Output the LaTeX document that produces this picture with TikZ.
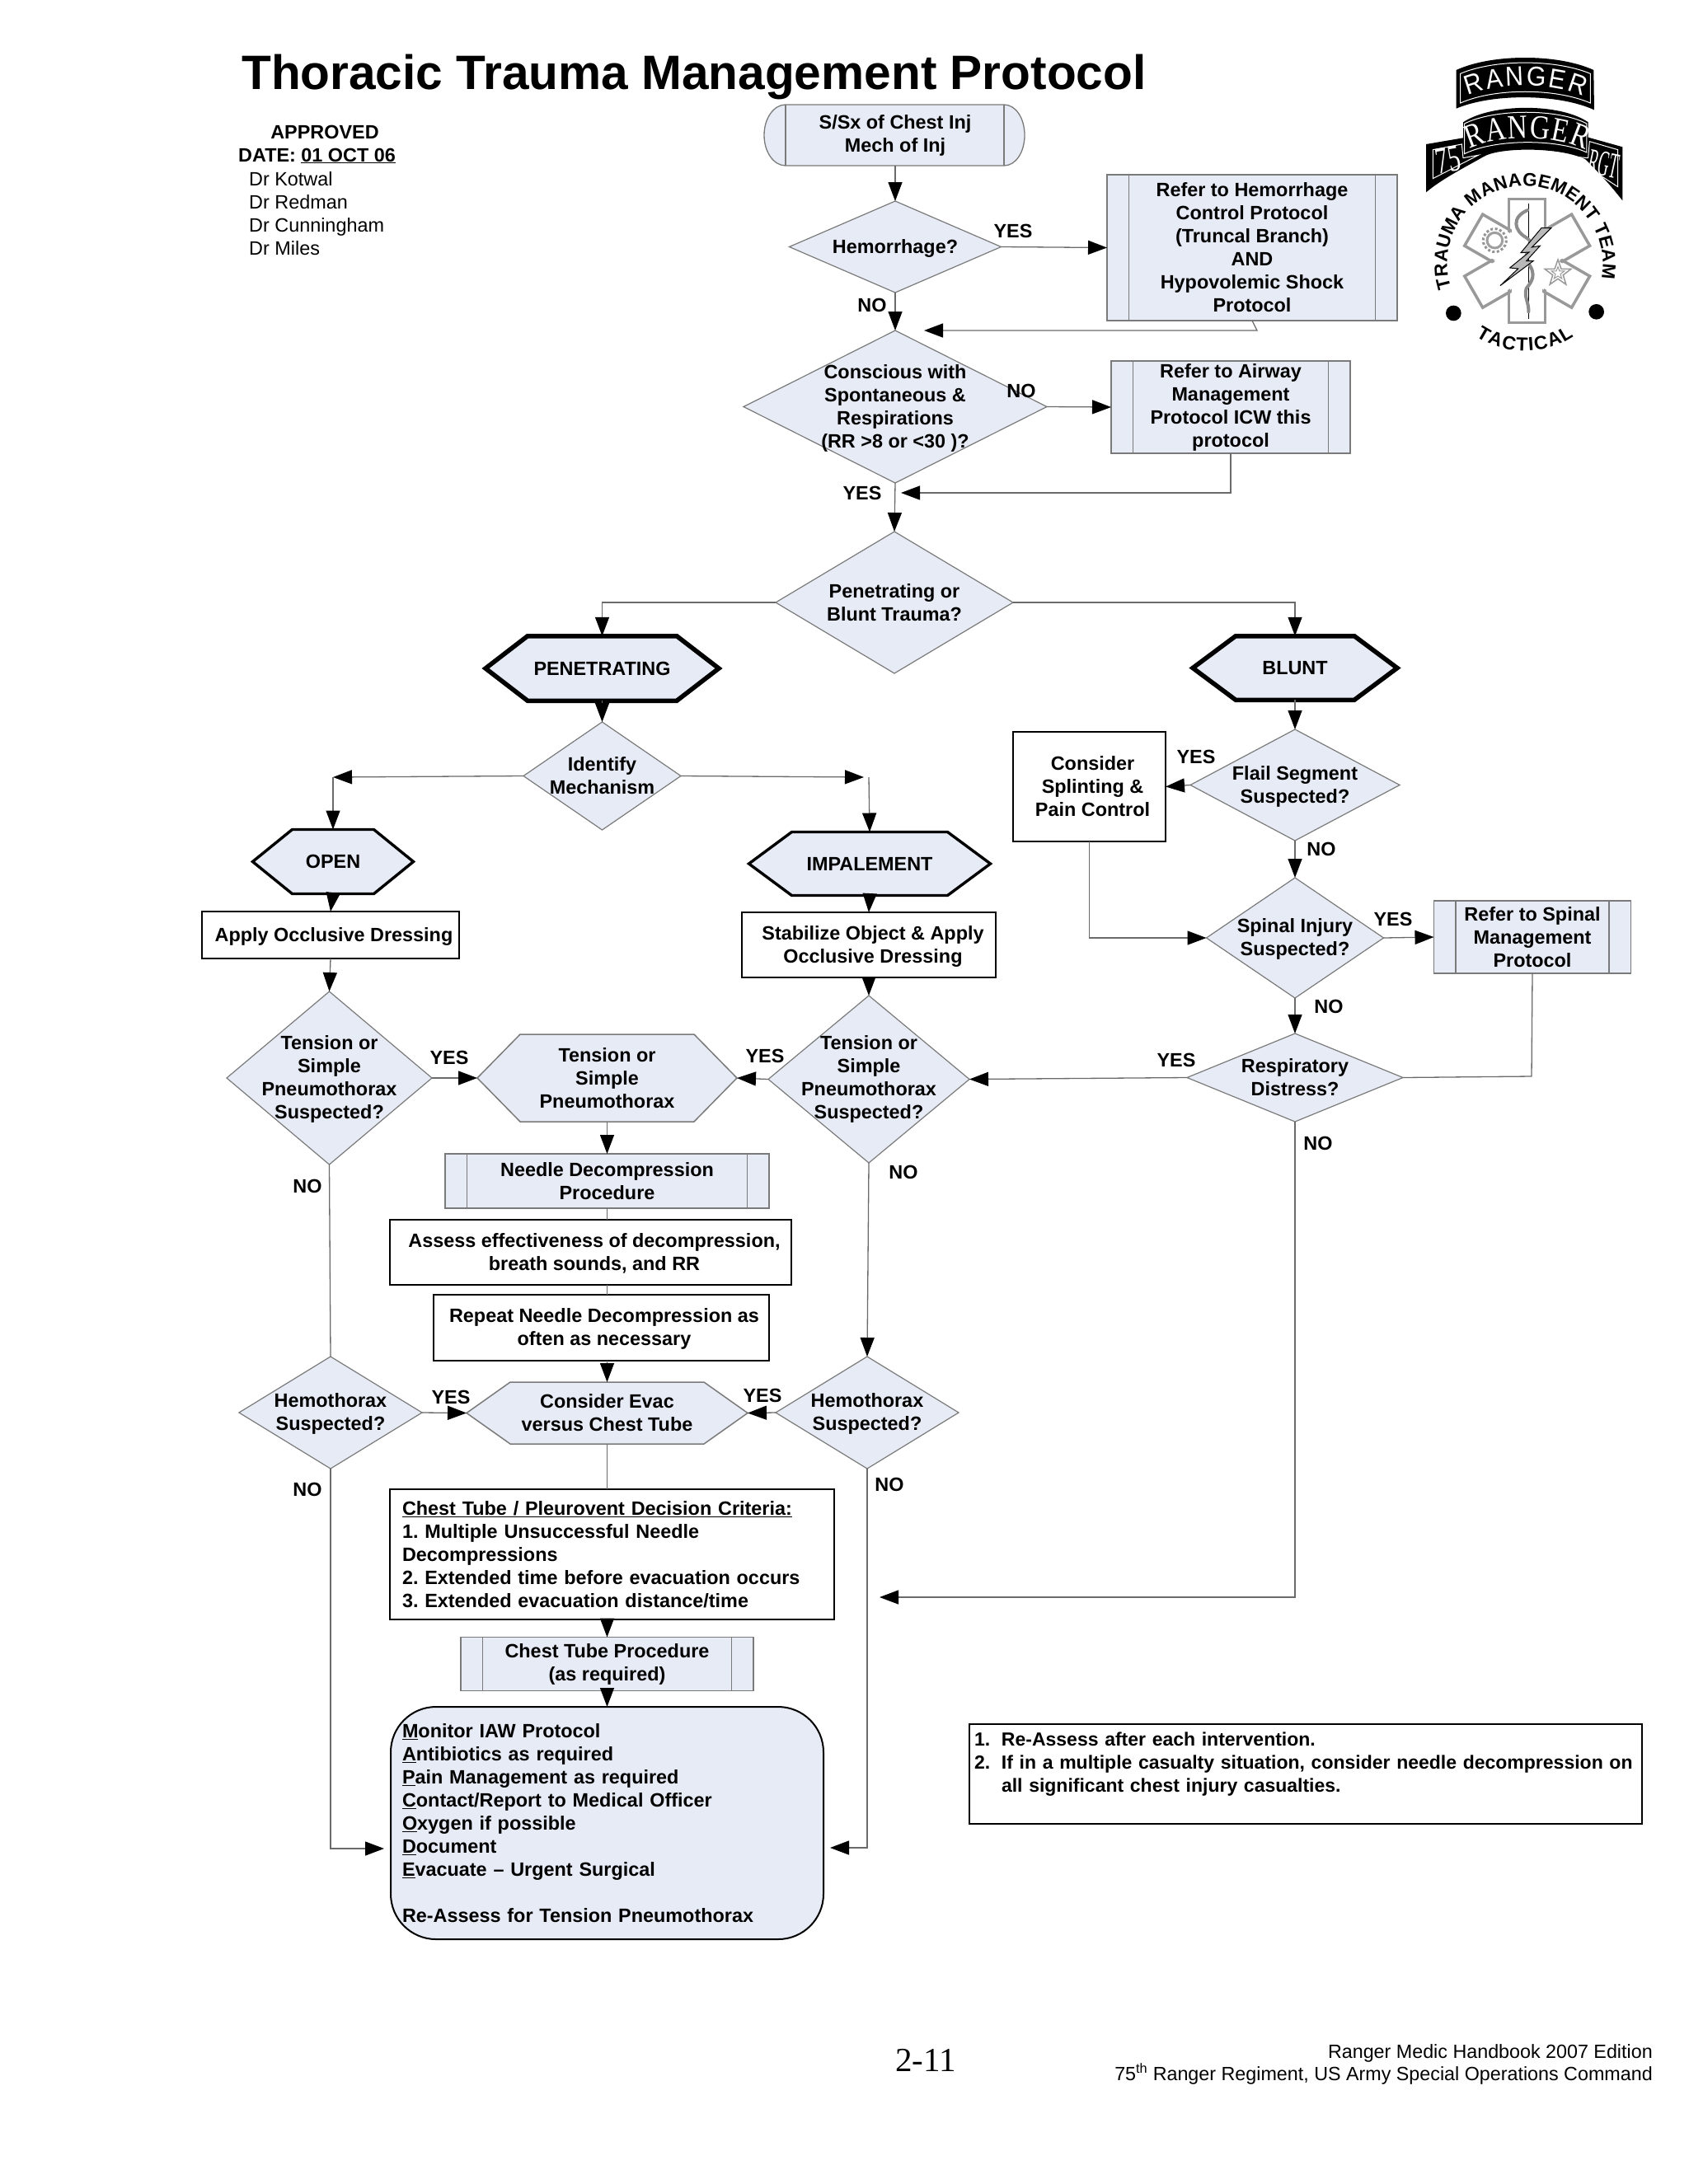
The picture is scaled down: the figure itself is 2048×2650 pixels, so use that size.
\documentclass[tikz,border=0pt]{standalone}
\usepackage{fontspec}
\usepackage{graphicx}
\setmainfont{Liberation Sans}
\newfontfamily\serifA{Liberation Serif}
\newfontfamily\condA[FakeStretch=0.92]{Liberation Sans}
\newfontfamily\condB[FakeStretch=0.82]{Liberation Serif}
\usetikzlibrary{shapes.geometric,arrows.meta,decorations.text}
\newcommand{\bodyf}{\bfseries\fontsize{23.4}{28}\selectfont}
\newcommand{\plainf}{\fontsize{23.4}{28}\selectfont}
\definecolor{nodefill}{HTML}{E6EBF5}
\definecolor{edgegray}{HTML}{7A7A7A}
\definecolor{linegray}{HTML}{6A6A6A}
\tikzset{
  base/.style={inner sep=0pt,outer sep=0pt,font=\bodyf,align=center},
  dia/.style={base,diamond,draw=edgegray,line width=1.2pt,fill=nodefill},
  dtxt/.style={font=\bodyf,align=center,inner sep=0pt,yshift=-1.5pt},
  procbox/.style={base,rectangle,draw=edgegray,line width=1.5pt,fill=nodefill,
    path picture={
      \draw[edgegray,line width=1.5pt]
        ([xshift=26.5pt]path picture bounding box.north west) -- ([xshift=26.5pt]path picture bounding box.south west)
        ([xshift=-26.5pt]path picture bounding box.north east) -- ([xshift=-26.5pt]path picture bounding box.south east);}},
  whitebox/.style={base,rectangle,draw=black,line width=2.6pt,fill=white},
  hexnode/.style={base,rectangle},
  lab/.style={font=\bodyf,inner sep=0pt},
  conn/.style={draw=linegray,line width=1.3pt},
  arr/.style={conn,-{Triangle[length=23pt,width=17pt,fill=black,color=black]}},
}
\newcommand{\hexa}[8]{%
  \draw[draw=#7,fill=nodefill,line join=miter,shift={(#2,#3)}]
    ({-(#4)/2},0) -- ({-(#4)/2+#6},{-(#5)/2}) -- ({(#4)/2-#6},{-(#5)/2}) -- ({(#4)/2},0)
    -- ({(#4)/2-#6},{(#5)/2}) -- ({-(#4)/2+#6},{(#5)/2}) -- cycle;
  \node[hexnode,minimum width=#4pt,minimum height=#5pt] (#1) at (#2,#3) {#8};}
\begin{document}
\frenchspacing
\begin{tikzpicture}[x=1pt,y=-1pt]
\useasboundingbox (0,0) rectangle (2048,2650);
\fill[white] (0,0) rectangle (2048,2650);

% title and approval block
\node[inner sep=0pt,anchor=base west,font=\bfseries\fontsize{58.6}{60}\selectfont] (title) at (293,108) {Thoracic Trauma Management Protocol};
\node[lab] (approved) at (394,160) {APPROVED};
\node[lab,anchor=west] (date) at (289,189) {DATE: \underline{01 OCT 06}};
\node[inner sep=0pt,anchor=west,font=\plainf,align=left] (doctors) at (302,259) {Dr Kotwal\\Dr Redman\\Dr Cunningham\\Dr Miles};

% start terminator
\draw[edgegray,line width=1.3pt,fill=nodefill] (953,127) -- (1218,127)
  .. controls (1232.4,127) and (1243,143.6) .. (1243,164)
  .. controls (1243,184.4) and (1232.4,201) .. (1218,201) -- (953,201)
  .. controls (938.6,201) and (927,184.4) .. (927,164)
  .. controls (927,143.6) and (938.6,127) .. (953,127) -- cycle;
\draw[edgegray,line width=1.3pt] (953,127) -- (953,201) (1218,127) -- (1218,201);
\node[base,minimum width=316pt,minimum height=74pt] (start) at (1086,164) {S/Sx of Chest Inj\\Mech of Inj};

% decisions
\node[dia,minimum width=257pt,minimum height=111pt,label={[dtxt]center:Hemorrhage?}] (hem) at (1086,299.5) {};
\node[dia,minimum width=368pt,minimum height=185pt,label={[dtxt]center:{Conscious with\\Spontaneous \&\\Respirations\\(RR >8 or <30 )?}}] (cons) at (1086,493.5) {};
\node[dia,minimum width=288pt,minimum height=172pt,label={[dtxt,yshift=1.5pt]center:{Penetrating or\\Blunt Trauma?}}] (pent) at (1085,731) {};
\node[dia,minimum width=191pt,minimum height=131pt,label={[dtxt,yshift=1.5pt]center:{Identify\\Mechanism}}] (ident) at (730.5,941.5) {};
\node[dia,minimum width=254pt,minimum height=135pt,label={[dtxt]center:{Flail Segment\\Suspected?}}] (flail) at (1571,952.5) {};
\node[dia,minimum width=215pt,minimum height=146pt,label={[dtxt]center:{Spinal Injury\\Suspected?}}] (spinal) at (1571,1138) {};
\node[dia,minimum width=262pt,minimum height=107pt,label={[dtxt,yshift=1.5pt]center:{Respiratory\\Distress?}}] (resp) at (1571,1307.5) {};
\node[dia,minimum width=249pt,minimum height=210pt,label={[dtxt]center:{Tension or\\Simple\\Pneumothorax\\Suspected?}}] (ltens) at (399.5,1308) {};
\node[dia,minimum width=244pt,minimum height=203pt,label={[dtxt,yshift=1.5pt]center:{Tension or\\Simple\\Pneumothorax\\Suspected?}}] (rtens) at (1054,1309.5) {};
\node[dia,minimum width=222pt,minimum height=136pt,label={[dtxt]center:{Hemothorax\\Suspected?}}] (lhemo) at (401,1714) {};
\node[dia,minimum width=222pt,minimum height=136pt,label={[dtxt]center:{Hemothorax\\Suspected?}}] (rhemo) at (1052,1714) {};

% predefined processes
\node[procbox,minimum width=352pt,minimum height=177pt] (refh) at (1519,300.5) {Refer to Hemorrhage\\Control Protocol\\(Truncal Branch)\\AND\\Hypovolemic Shock\\Protocol};
\node[procbox,minimum width=290pt,minimum height=112pt] (airway) at (1493,494) {Refer to Airway\\Management\\Protocol ICW this\\protocol};
\node[procbox,minimum width=239pt,minimum height=88pt] (refs) at (1859,1137) {Refer to Spinal\\Management\\Protocol};
\node[procbox,minimum width=393pt,minimum height=66pt] (needle) at (736.5,1433) {Needle Decompression\\Procedure};
\node[procbox,minimum width=355pt,minimum height=65pt] (ctp) at (736.5,2019) {Chest Tube Procedure\\(as required)};

% hexagons
\hexa{penh}{730.5}{811}{283}{78.5}{51}{black,line width=5.5pt}{PENETRATING}
\hexa{blunt}{1571}{810.5}{248}{77.5}{52}{black,line width=5.5pt}{BLUNT}
\hexa{openh}{404}{1045.5}{195}{78}{48}{black,line width=3.4pt}{OPEN}
\hexa{imp}{1055}{1048}{293}{77}{52}{black,line width=3.4pt}{IMPALEMENT}
\hexa{thex}{736.5}{1308}{315}{106}{52}{edgegray,line width=1.5pt}{Tension or\\Simple\\Pneumothorax}
\hexa{cevac}{736.5}{1714.5}{341}{75}{53}{edgegray,line width=1.5pt}{Consider Evac\\versus Chest Tube}

% plain boxes
\node[whitebox,minimum width=185pt,minimum height=133pt,label={[dtxt,xshift=4pt,yshift=1.5pt]center:{Consider\\Splinting \&\\Pain Control}}] (consb) at (1321.5,954.5) {};
\node[whitebox,minimum width=312pt,minimum height=57pt,label={[dtxt,xshift=4pt]center:{Apply Occlusive Dressing}}] (apply) at (401,1134.5) {};
\node[whitebox,minimum width=308pt,minimum height=79pt,label={[dtxt,xshift=5pt]center:{Stabilize Object \& Apply\\Occlusive Dressing}}] (stab) at (1054,1146.5) {};
\node[whitebox,minimum width=487pt,minimum height=79pt,label={[dtxt,xshift=4.5pt]center:{Assess effectiveness of decompression,\\breath sounds, and RR}}] (assess) at (716.5,1519.5) {};
\node[whitebox,minimum width=407pt,minimum height=80pt,label={[dtxt,xshift=3.5pt]center:{Repeat Needle Decompression as\\often as necessary}}] (rep) at (729.5,1611) {};
\node[whitebox,minimum height=158pt,text width=509pt,inner xsep=15pt,align=left] (chest) at (742.5,1886) {\underline{Chest Tube / Pleurovent Decision Criteria:}\\1. Multiple Unsuccessful Needle\\Decompressions\\2. Extended time before evacuation occurs\\3. Extended evacuation distance/time};
\node[base,rectangle,draw=black,line width=2pt,fill=nodefill,rounded corners=55pt,minimum height=282pt,text width=497pt,inner xsep=14pt,align=left] (monitor) at (736.5,2212) {\underline{M}onitor IAW Protocol\\\underline{A}ntibiotics as required\\\underline{P}ain Management as required\\\underline{C}ontact/Report to Medical Officer\\\underline{O}xygen if possible\\\underline{D}ocument\\\underline{E}vacuate – Urgent Surgical\\\mbox{}\\Re-Assess for Tension Pneumothorax};
\node[whitebox,minimum height=121pt,text width=804pt,inner xsep=6pt,align=left,font=\bfseries\fontsize{23}{28}\selectfont] (notes) at (1584,2152.5) {\makebox[33pt][l]{1.}Re-Assess after each intervention.\\\mbox{\makebox[33pt][l]{2.}If in a multiple casualty situation, consider needle decompression on}\\\hspace*{33pt}all significant chest injury casualties.\\\mbox{}};

% free connector ends
\coordinate (hretA) at (1525,401);
\coordinate (hretB) at (1121,401);
\coordinate (aretB) at (1093,598);
\coordinate (idL) at (404,943);
\coordinate (idR) at (1048,943);
\coordinate (idRv) at (1054,943);
\coordinate (respNo) at (1067,1938);
\coordinate (lend) at (466,2243);
\coordinate (rend) at (1007,2242);
\coordinate (srefA) at (1858,1306);

% connectors
\draw[arr] (start.south) -- (hem.north);
\draw[arr] (hem.east) -- (refh.west);
\draw[arr] (hem.south) -- (cons.north);
\draw[arr] (refh.south) -- (hretA) -- (hretB);
\draw[arr] (cons.east) -- (airway.west);
\draw[arr] (airway.south) |- (aretB);
\draw[arr] (cons.south) -- (pent.north);
\draw[arr] (pent.west) -| (penh.north);
\draw[arr] (pent.east) -| (blunt.north);
\draw[arr] (penh.south) -- (ident.north);
\draw[arr] (ident.west) -- (idL);
\draw[arr] (ident.east) -- (idR);
\draw[arr] (idL) -- (openh.north);
\draw[arr] (idRv) -- (imp.north);
\draw[arr] (openh.south) -- (apply.north);
\draw[arr] (imp.south) -- (stab.north);
\draw[arr] (apply.south) -- (ltens.north);
\draw[arr] (stab.south) -- (rtens.north);
\draw[arr] (blunt.south) -- (flail.north);
\draw[arr] (flail.west) -- (consb.east);
\draw[arr] (flail.south) -- (spinal.north);
\draw[arr] (consb.south) |- (spinal.west);
\draw[arr] (spinal.east) -- (refs.west);
\draw[arr] (spinal.south) -- (resp.north);
\draw[conn] (refs.south) -- (srefA) -- (resp.east);
\draw[arr] (resp.west) -- (rtens.east);
\draw[arr] (resp.south) |- (respNo);
\draw[arr] (ltens.east) -- (thex.west);
\draw[arr] (rtens.west) -- (thex.east);
\draw[arr] (thex.south) -- (needle.north);
\draw[conn] (needle.south) -- (needle.south |- assess.north);
\draw[conn] (needle.south |- assess.south) -- (needle.south |- rep.north);
\draw[arr] (needle.south |- rep.south) -- (cevac.north);
\draw[conn] (ltens.south) -- (lhemo.north);
\draw[arr] (rtens.south) -- (rhemo.north);
\draw[arr] (lhemo.east) -- (cevac.west);
\draw[arr] (rhemo.west) -- (cevac.east);
\draw[conn] (cevac.south) -- (cevac.south |- chest.north);
\draw[arr] (ctp.north |- chest.south) -- (ctp.north);
\draw[arr] (ctp.south) -- (monitor.north);
\draw[arr] (lhemo.south) |- (lend);
\draw[arr] (rhemo.south) |- (rend);

% connector labels
\node[lab] (l1) at (1229,280) {YES};
\node[lab] (l2) at (1058,370) {NO};
\node[lab] (l3) at (1239,474) {NO};
\node[lab] (l4) at (1046,598) {YES};
\node[lab] (l5) at (1451,918) {YES};
\node[lab] (l6) at (1603,1030) {NO};
\node[lab] (l7) at (1690,1115) {YES};
\node[lab] (l8) at (1612,1221) {NO};
\node[lab] (l9) at (1427,1286) {YES};
\node[lab] (l10) at (1599,1387) {NO};
\node[lab] (l11) at (545,1283) {YES};
\node[lab] (l12) at (928,1281) {YES};
\node[lab] (l13) at (373,1439) {NO};
\node[lab] (l14) at (1096,1422) {NO};
\node[lab] (l15) at (547,1695) {YES};
\node[lab] (l16) at (925,1693) {YES};
\node[lab] (l17) at (373,1807) {NO};
\node[lab] (l18) at (1079,1801) {NO};

% page footer
\node[inner sep=0pt,font=\serifA\fontsize{41}{44}\selectfont] (pageno) at (1123,2500) {2-11};
\node[inner sep=0pt,anchor=east,align=right,font=\fontsize{23.3}{27}\selectfont] (foot) at (2005,2505) {Ranger Medic Handbook 2007 Edition\\75\textsuperscript{th} Ranger Regiment, US Army Special Operations Command};

% logo (coordinates of a 3x enlargement)
\begin{scope}[shift={(1660,50)},x=0.3333pt,y=-0.3333pt]
  % upper tab
  \fill[black] (320,105) .. controls (450,45) and (690,45) .. (820,105) -- (822,250) .. controls (690,190) and (450,190) .. (320,245) -- cycle;
  \draw[white,line width=1pt] (335,118) .. controls (460,65) and (680,65) .. (808,118) -- (808,225) .. controls (680,170) and (460,170) .. (335,225) -- cycle;
  \path[decorate,decoration={text along path,text align={fit to path},text={|\color{white}\condA\fontsize{33}{33}\selectfont|RANGER}}]
    (362,198) .. controls (470,150) and (670,150) .. (782,202);
  % lower scroll
  \fill[black] (210,550) -- (210,375) -- (345,352) -- (345,295) .. controls (450,225) and (700,225) .. (800,295) -- (800,350) -- (925,385) -- (925,580)
    .. controls (870,510) and (830,470) .. (790,430) .. controls (700,385) and (480,385) .. (420,420) .. controls (350,460) and (270,500) .. (210,550) -- cycle;
  \draw[white,line width=1pt] (350,300) .. controls (460,245) and (690,245) .. (795,300) -- (795,405) .. controls (690,355) and (460,355) .. (350,410) -- cycle;
  \draw[white,line width=1pt] (235,395) -- (340,375) -- (345,425) -- (400,415) -- (235,500) -- cycle;
  \draw[white,line width=1pt] (805,365) -- (908,395) -- (908,530) -- (740,420) -- (800,425) -- cycle;
  \path[decorate,decoration={text along path,text align={fit to path},text={|\color{white}\condB\fontsize{41}{41}\selectfont|RANGER}}]
    (368,394) .. controls (470,340) and (680,340) .. (788,398);
  \node[text=white,inner sep=0pt,rotate=10,font=\serifA\fontsize{46}{46}\selectfont] (l75) at (291,432) {\scalebox{0.65}[1]{75}};
  \node[text=white,inner sep=0pt,rotate=-12,font=\serifA\fontsize{44}{44}\selectfont] (lrgt) at (857,447) {\scalebox{0.42}[1]{RGT}};
  % star of life
  \begin{scope}[shift={(578,800)}]
    \foreach \a in {0,60,120} {\draw[rotate=\a,draw=gray!80,line width=3.5pt] (-66,-225) rectangle (66,225);}
    \foreach \a in {0,60,120} {\fill[rotate=\a,white] (-56,-215) rectangle (56,215);}
  \end{scope}
  % gear
  \draw[gray!85,line width=3pt,dash pattern=on 3pt off 2.5pt] (460,725) circle[radius=42];
  \draw[gray!75,line width=3pt,fill=white] (460,725) circle[radius=28];
  % star
  \begin{scope}[shift={(690,845)}]
    \draw[gray!80,line width=1.5pt] (0,-50) -- (11.8,-16.2) -- (47.6,-15.5) -- (19,6.2) -- (29.4,40.5) -- (0,20) -- (-29.4,40.5) -- (-19,6.2) -- (-47.6,-15.5) -- (-11.8,-16.2) -- cycle;
    \draw[gray!80,line width=1pt] (0,-24) -- (6,-8) -- (23,-8) -- (9,3) -- (14,19) -- (0,10) -- (-14,19) -- (-9,3) -- (-23,-8) -- (-6,-8) -- cycle;
  \end{scope}
  % staff, snake and bolt
  \draw[black,line width=1pt] (583,590) -- (583,1010);
  \draw[gray!90,line width=4pt,line cap=round] (580,615) .. controls (520,640) and (530,690) .. (575,715) .. controls (620,745) and (560,770) .. (575,800) .. controls (620,850) and (590,880) .. (575,900) .. controls (565,930) and (585,950) .. (583,985);
  \draw[black,line width=1pt,fill=gray!55] (665,680) -- (630,680) -- (555,770) -- (585,768) -- (515,825) -- (545,828) -- (480,890) -- (600,800) -- (575,800) -- (625,745) -- (595,750) -- cycle;
  % ring texts and dots
  \path[decorate,decoration={text along path,text align={fit to path},text={|\bfseries\fontsize{22.5}{22.5}\selectfont|TRAUMA MANAGEMENT TEAM}}]
    (300.8,897.4) .. controls (264.2,784.9) and (301.7,661.3) .. (394.5,588)
    .. controls (487.3,514.7) and (616.2,506.8) .. (717.2,568.3)
    .. controls (818.2,629.8) and (870.4,747.8) .. (847.8,864);
  \path[decorate,decoration={text along path,text align={fit to path},text={|\bfseries\fontsize{23}{23}\selectfont|TACTICAL}}]
    (392.2,1073.6) .. controls (499.6,1146) and (640.4,1146) .. (747.8,1073.6);
  \fill[black] (310,990) circle[radius=28] (830,985) circle[radius=28];
\end{scope}
\end{tikzpicture}
\end{document}
